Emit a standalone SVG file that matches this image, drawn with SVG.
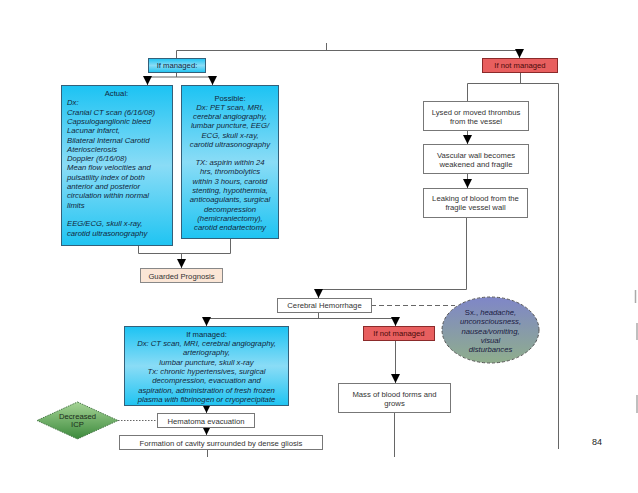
<svg xmlns="http://www.w3.org/2000/svg" width="638" height="493" viewBox="0 0 638 493">
<defs>
<linearGradient id="cyan" x1="0" y1="0" x2="0" y2="1">
<stop offset="0" stop-color="#1cc3f3"/>
<stop offset="0.5" stop-color="#8adcf6"/>
<stop offset="1" stop-color="#1fc4f2"/>
</linearGradient>
<linearGradient id="ell" x1="0" y1="0" x2="0" y2="1">
<stop offset="0" stop-color="#7f86c8"/>
<stop offset="1" stop-color="#8fae8c"/>
</linearGradient>
<linearGradient id="grn" x1="0" y1="0" x2="0" y2="1">
<stop offset="0" stop-color="#a6d496"/>
<stop offset="1" stop-color="#3c8a3c"/>
</linearGradient>
<marker id="arr" markerUnits="userSpaceOnUse" markerWidth="9" markerHeight="9" viewBox="0 0 10 10" refX="10" refY="5" orient="auto">
<path d="M0,0 L10,5 L0,10 Z" fill="#000"/>
</marker>
</defs>
<style>
text{font-family:"Liberation Sans",Arial,sans-serif;font-size:7.7px;fill:#333}
.c{text-anchor:middle}
.i{font-style:italic}
.cy{fill:url(#cyan);stroke:#33607a;stroke-width:1}
.cyt{fill:#12263a}
.wb{fill:#fff;stroke:#777;stroke-width:1}
.rb{fill:#e85f5f;stroke:#8b2a2a;stroke-width:1}
.rt{fill:#4a0a0a}
.ln{fill:none;stroke:#666;stroke-width:1}
.ar{fill:none;stroke:#666;stroke-width:1;marker-end:url(#arr)}
</style>
<rect width="638" height="493" fill="#fff"/>

<g id="connectors">
<path class="ln" d="M326.5,43 V50.5 M176.5,50.5 H519.5"/>
<path class="ln" d="M176.5,50.5 V58"/>
<path class="ar" d="M519.5,50.5 V58"/>
<path class="ln" d="M176.5,72 V77 M147.5,77 H212.5"/>
<path class="ar" d="M147.5,77 V85"/>
<path class="ar" d="M212.5,77 V85"/>
<path class="ln" d="M138.5,246 V253.5 M230.5,239 V253.5 M138.5,253.5 H230.5"/>
<path class="ar" d="M181.5,253.5 V268"/>
<path class="ln" d="M520.5,72 V83.5 M467.5,83.5 H558.5 V449 M467.5,83.5 V101"/>
<path class="ar" d="M467.5,130 V144"/>
<path class="ar" d="M467.5,174 V188"/>
<path class="ln" d="M466.5,217 V289.5 H318.5"/>
<path class="ar" d="M318.5,289.5 V298"/>
<path class="ln" d="M318.5,312 V318.5 M206.5,318.5 H395.5"/>
<path class="ar" d="M206.5,318.5 V326"/>
<path class="ar" d="M395.5,318.5 V326"/>
<path class="ar" d="M395.5,341 V383"/>
<path class="ln" d="M394.5,413 V457"/>
<path class="ar" d="M206.5,406 V413"/>
<path class="ar" d="M206.5,428 V435"/>
<path class="ln" d="M207.5,449 V457"/>
<path class="ln" d="M371,305.5 H455" stroke-dasharray="5,3"/>
<path class="ln" d="M118,420.5 H157" stroke-dasharray="1.5,1.5"/>
</g>

<g id="if-managed-top">
<rect class="cy" x="148.5" y="58.5" width="57" height="14"/>
<text class="c cyt" x="177" y="68.3">If managed:</text>
</g>

<g id="if-not-managed-top">
<rect class="rb" x="482.5" y="58.5" width="75" height="14"/>
<text class="c rt" x="520" y="68.3">If not managed</text>
</g>

<g id="actual">
<rect class="cy" x="61.5" y="85.5" width="111" height="160"/>
<text class="c cyt" x="116.5" y="96">Actual:</text>
<g class="i cyt">
<text class="cyt i" x="67" y="105.3">Dx:</text>
<text class="cyt i" x="67" y="114.6">Cranial CT scan (6/16/08)</text>
<text class="cyt i" x="67" y="123.9">Capsuloganglionic bleed</text>
<text class="cyt i" x="67" y="133.2">Lacunar infarct,</text>
<text class="cyt i" x="67" y="142.5">Bilateral Internal Carotid</text>
<text class="cyt i" x="67" y="151.8">Ateriosclerosis</text>
<text class="cyt i" x="67" y="161.1">Doppler (6/16/08)</text>
<text class="cyt i" x="67" y="170.4">Mean flow velocities and</text>
<text class="cyt i" x="67" y="179.7">pulsatility index of both</text>
<text class="cyt i" x="67" y="189">anterior and posterior</text>
<text class="cyt i" x="67" y="198.3">circulation within normal</text>
<text class="cyt i" x="67" y="207.6">limits</text>
<text class="cyt i" x="67" y="226.2">EEG/ECG, skull x-ray,</text>
<text class="cyt i" x="67" y="235.5">carotid ultrasonography</text>
</g>
</g>

<g id="possible">
<rect class="cy" x="181.5" y="85.5" width="97" height="153"/>
<text class="c cyt" x="230" y="100.5">Possible:</text>
<text class="c cyt i" x="230" y="109.8">Dx: PET scan, MRI,</text>
<text class="c cyt i" x="230" y="119.1">cerebral angiography,</text>
<text class="c cyt i" x="230" y="128.4">lumbar puncture, EEG/</text>
<text class="c cyt i" x="230" y="137.7">ECG, skull x-ray,</text>
<text class="c cyt i" x="230" y="147">carotid ultrasonography</text>
<text class="c cyt i" x="230" y="165.1">TX: aspirin within 24</text>
<text class="c cyt i" x="230" y="174.4">hrs, thrombolytics</text>
<text class="c cyt i" x="230" y="183.7">within 3 hours, carotid</text>
<text class="c cyt i" x="230" y="193">stenting, hypothermia,</text>
<text class="c cyt i" x="230" y="202.3">anticoagulants, surgical</text>
<text class="c cyt i" x="230" y="211.6">decompression</text>
<text class="c cyt i" x="230" y="220.9">(hemicraniectomy),</text>
<text class="c cyt i" x="230" y="230.2">carotid endartectomy</text>
</g>

<g id="guarded-prognosis">
<rect x="140.5" y="268.5" width="82" height="14" fill="#fbe6d6" stroke="#888"/>
<text class="c" x="181.5" y="278.6">Guarded Prognosis</text>
</g>

<g id="lysed">
<rect class="wb" x="423.5" y="101.5" width="105" height="29"/>
<text class="c" x="476" y="114.5">Lysed or moved thrombus</text>
<text class="c" x="476" y="123.6">from the vessel</text>
</g>

<g id="vascular">
<rect class="wb" x="423.5" y="144.5" width="105" height="29"/>
<text class="c" x="476" y="158">Vascular wall becomes</text>
<text class="c" x="476" y="167.3">weakened and fragile</text>
</g>

<g id="leaking">
<rect class="wb" x="423.5" y="188.5" width="104" height="29"/>
<text class="c" x="475.5" y="201">Leaking of blood from the</text>
<text class="c" x="475.5" y="210.4">fragile vessel wall</text>
</g>

<g id="cerebral-hemorrhage">
<rect class="wb" x="277.5" y="298.5" width="94" height="14"/>
<text class="c" x="324.5" y="308">Cerebral Hemorrhage</text>
</g>

<g id="symptoms">
<ellipse cx="490.5" cy="330" rx="48.5" ry="33" fill="url(#ell)" stroke="#555" stroke-dasharray="3,2"/>
<text class="c" x="490.5" y="315" fill="#1a1a40" style="fill:#1a1a40">Sx., <tspan class="i">headache,</tspan></text>
<text class="c i" x="490.5" y="324.2" style="fill:#1a1a40">unconsciousness,</text>
<text class="c i" x="490.5" y="333.5" style="fill:#1a1a40">nausea/vomiting,</text>
<text class="c i" x="490.5" y="342.6" style="fill:#1a1a40">visual</text>
<text class="c i" x="490.5" y="351.8" style="fill:#1a1a40">disturbances</text>
</g>

<g id="if-not-managed-bottom">
<rect class="rb" x="363.5" y="326.5" width="71" height="14"/>
<text class="c rt" x="399" y="336.3">If not managed</text>
</g>

<g id="mass">
<rect class="wb" x="338.5" y="383.5" width="112" height="29"/>
<text class="c" x="394.5" y="397">Mass of blood forms and</text>
<text class="c" x="394.5" y="406.3">grows</text>
</g>

<g id="if-managed-bottom">
<rect class="cy" x="124.5" y="326.5" width="164" height="79"/>
<text class="c cyt" x="206.5" y="336.8">If managed:</text>
<text class="c cyt i" x="206.5" y="346.1">Dx: CT scan, MRI, cerebral angiography,</text>
<text class="c cyt i" x="206.5" y="355.4">arteriography,</text>
<text class="c cyt i" x="206.5" y="364.7">lumbar puncture, skull x-ray</text>
<text class="c cyt i" x="206.5" y="374">Tx: chronic hypertensives, surgical</text>
<text class="c cyt i" x="206.5" y="383.3">decompression, evacuation and</text>
<text class="c cyt i" x="206.5" y="392.6">aspiration, administration of fresh frozen</text>
<text class="c cyt i" x="206.5" y="401.9">plasma with fibrinogen or cryoprecipitate</text>
</g>

<g id="decreased-icp">
<path d="M77.5,402 L118,420.5 L77.5,439 L37,420.5 Z" fill="url(#grn)" stroke="#4a7a4a" stroke-dasharray="1.5,1"/>
<text class="c" x="77.5" y="418.5" style="fill:#1a2a1a">Decreased</text>
<text class="c" x="77.5" y="427.2" style="fill:#1a2a1a">ICP</text>
</g>

<g id="hematoma">
<rect class="wb" x="157.5" y="413.5" width="97" height="14"/>
<text class="c" x="206" y="423.8">Hematoma evacuation</text>
</g>

<g id="formation">
<rect class="wb" x="119.5" y="435.5" width="203" height="14"/>
<text class="c" x="221" y="445.6">Formation of cavity surrounded by dense gliosis</text>
</g>

<text x="597" y="444.5" class="c" style="font-size:9px;fill:#222">84</text>
<g id="edge-marks" stroke="#aaa" stroke-width="1.5">
<line x1="635.5" y1="290" x2="635.5" y2="303"/>
<line x1="637" y1="323" x2="637" y2="340"/>
<line x1="637" y1="395" x2="637" y2="413"/>
</g>
</svg>
